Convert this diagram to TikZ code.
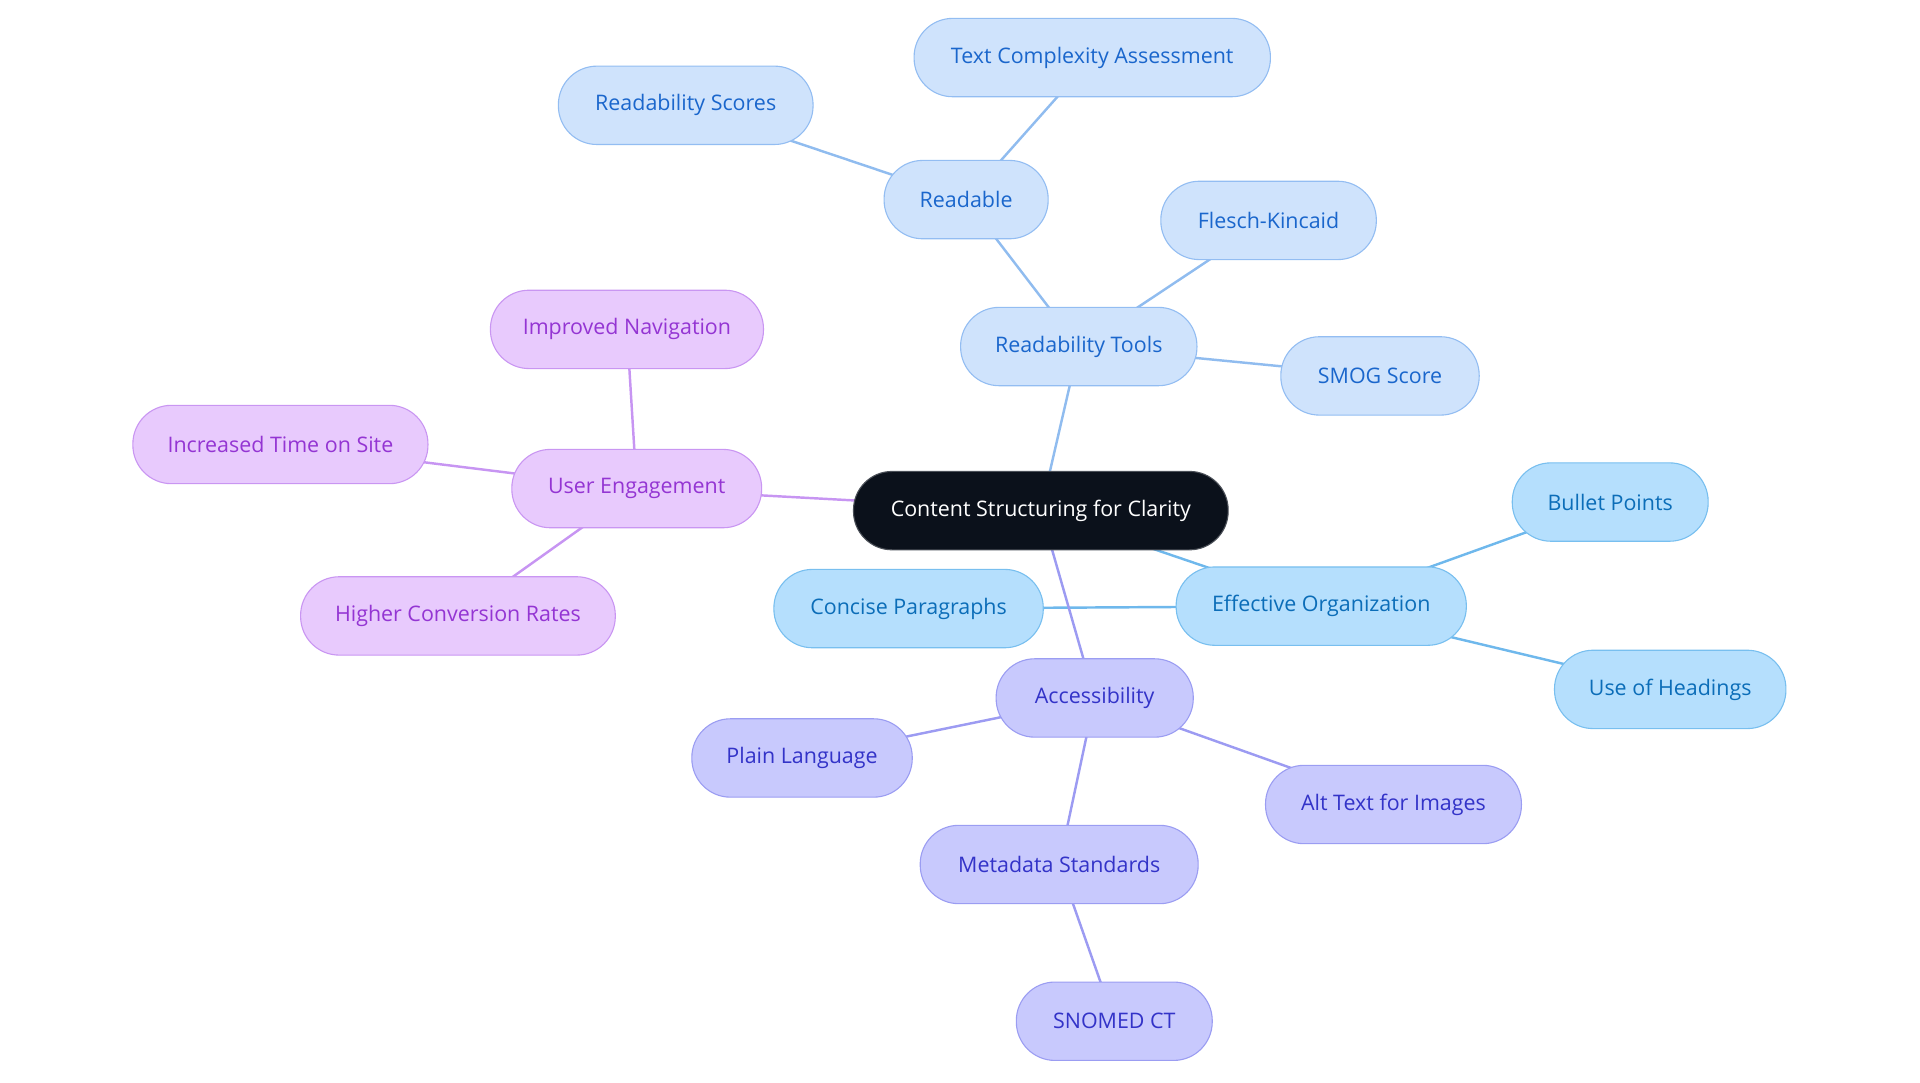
\documentclass[tikz,border=0pt]{standalone}
\usepackage{fontspec}
\setmainfont{Open Sans}
\usetikzlibrary{backgrounds}
\definecolor{cfill}{HTML}{0B111B}
\definecolor{cdraw}{HTML}{4A4F57}
\definecolor{afill}{HTML}{CFE3FC}
\definecolor{adraw}{HTML}{93BDF2}
\definecolor{atext}{HTML}{1A66CC}
\definecolor{aline}{HTML}{90BCEF}
\definecolor{bfill}{HTML}{B5DFFD}
\definecolor{bdraw}{HTML}{78BFEF}
\definecolor{btext}{HTML}{0B6DB8}
\definecolor{bline}{HTML}{6FB8EC}
\definecolor{ifill}{HTML}{C8C9FD}
\definecolor{idraw}{HTML}{9B9DF2}
\definecolor{itext}{HTML}{3333C8}
\definecolor{iline}{HTML}{9C9BF2}
\definecolor{pfill}{HTML}{E8CAFD}
\definecolor{pdraw}{HTML}{C996F2}
\definecolor{ptext}{HTML}{9435D3}
\definecolor{pline}{HTML}{C795F2}
\tikzset{
  pill/.style={rectangle, rounded corners=31.5pt, minimum height=64pt, inner sep=0pt, line width=0.9pt, font=\fontsize{17.5}{20}\selectfont},
  ctr/.style={pill, fill=cfill, draw=cdraw, text=white},
  ga/.style={pill, fill=afill, draw=adraw, text=atext},
  gb/.style={pill, fill=bfill, draw=bdraw, text=btext},
  gi/.style={pill, fill=ifill, draw=idraw, text=itext},
  gp/.style={pill, fill=pfill, draw=pdraw, text=ptext},
  ea/.style={draw=aline, line width=2pt},
  eb/.style={draw=bline, line width=2pt},
  ei/.style={draw=iline, line width=2pt},
  ep/.style={draw=pline, line width=2pt},
}
\begin{document}
\begin{tikzpicture}[x=1pt,y=-1pt]
\useasboundingbox (0,0) rectangle (1568,884);
\node[ctr, minimum width=306pt] (c) at (850,417) {Content Structuring for Clarity};
\node[ga, minimum width=193pt] (rt) at (881,283) {Readability Tools};
\node[ga, minimum width=134pt] (rd) at (789,163) {Readable};
\node[ga, minimum width=208pt] (rs) at (560,86) {Readability Scores};
\node[ga, minimum width=291pt] (tc) at (892,47) {Text Complexity Assessment};
\node[ga, minimum width=176pt] (fk) at (1036,180) {Flesch-Kincaid};
\node[ga, minimum width=162pt] (sm) at (1127,307) {SMOG Score};
\node[gb, minimum width=237pt] (eo) at (1079,495) {Effective Organization};
\node[gb, minimum width=160pt] (bp) at (1315,410) {Bullet Points};
\node[gb, minimum width=189pt] (uh) at (1364,563) {Use of Headings};
\node[gb, minimum width=220pt] (cp) at (742,497) {Concise Paragraphs};
\node[gi, minimum width=161pt] (ac) at (894,570) {Accessibility};
\node[gi, minimum width=180pt] (pl) at (655,619) {Plain Language};
\node[gi, minimum width=209pt] (at) at (1138,657) {Alt Text for Images};
\node[gi, minimum width=227pt] (md) at (865,706) {Metadata Standards};
\node[gi, minimum width=160pt] (sn) at (910,834) {SNOMED CT};
\node[gp, minimum width=204pt] (ue) at (520,399) {User Engagement};
\node[gp, minimum width=223pt] (in) at (512,269) {Improved Navigation};
\node[gp, minimum width=241pt] (it) at (229,363) {Increased Time on Site};
\node[gp, minimum width=257pt] (hc) at (374,503) {Higher Conversion Rates};
\begin{scope}[on background layer]
\draw[ea] (c.center) -- (rt.center);
\draw[ea] (rt.center) -- (rd.center);
\draw[ea] (rd.center) -- (rs.center);
\draw[ea] (rd.center) -- (tc.center);
\draw[ea] (rt.center) -- (fk.center);
\draw[ea] (rt.center) -- (sm.center);
\draw[eb] (c.center) -- (eo.center);
\draw[eb] (eo.center) -- (bp.center);
\draw[eb] (eo.center) -- (uh.center);
\draw[eb] (eo.center) -- (cp.center);
\draw[ei] (c.center) -- (ac.center);
\draw[ei] (ac.center) -- (pl.center);
\draw[ei] (ac.center) -- (at.center);
\draw[ei] (ac.center) -- (md.center);
\draw[ei] (md.center) -- (sn.center);
\draw[ep] (c.center) -- (ue.center);
\draw[ep] (ue.center) -- (in.center);
\draw[ep] (ue.center) -- (it.center);
\draw[ep] (ue.center) -- (hc.center);
\end{scope}
\end{tikzpicture}
\end{document}
